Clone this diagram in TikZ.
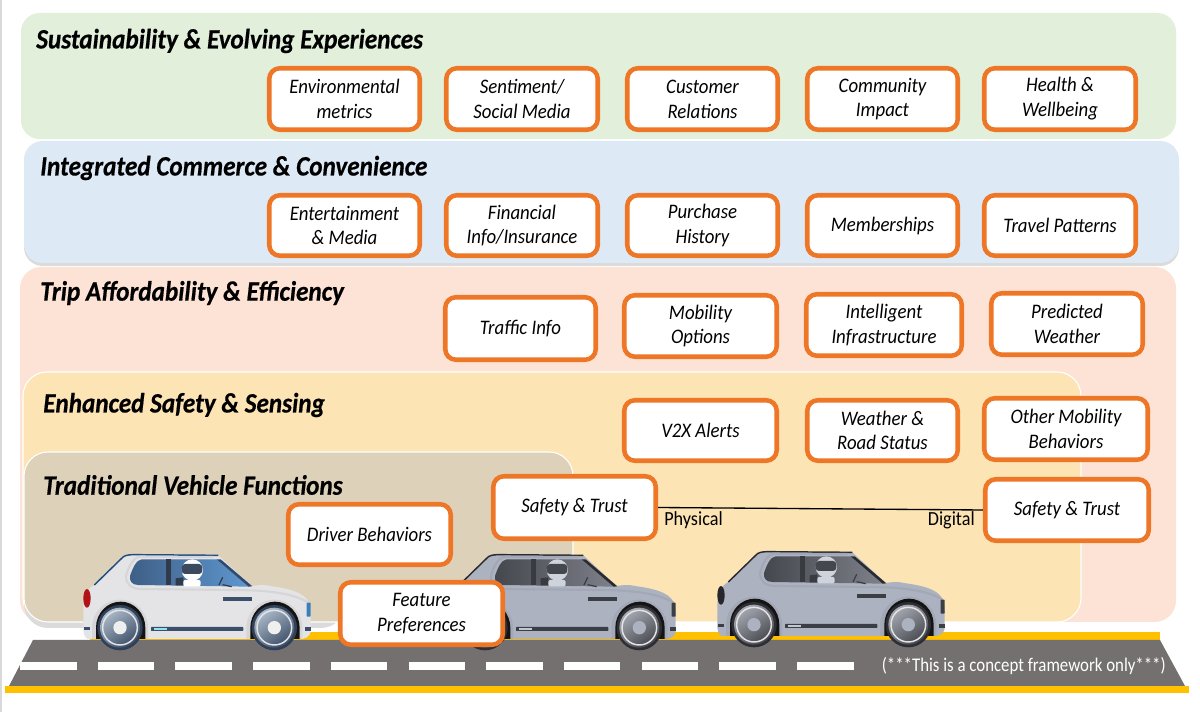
\documentclass[tikz,border=0pt]{standalone}
\usepackage{fontspec}
\setmainfont{Carlito}
\newfontfamily\headfont[FakeStretch=0.9,FakeBold=0.5]{Carlito}
\newfontfamily\boxfont[FakeStretch=0.91]{Carlito}
\newfontfamily\notefont[FakeStretch=0.87]{Carlito}
\definecolor{bandgreen}{HTML}{E2EFDA}
\definecolor{bandblue}{HTML}{DDE9F5}
\definecolor{bandpeach}{HTML}{FDE3D6}
\definecolor{bandyellow}{HTML}{FDE4B5}
\definecolor{bandtan}{HTML}{DED1B9}
\definecolor{boxorange}{HTML}{EE7627}
\definecolor{roadgrey}{HTML}{747070}
\definecolor{roadyellow}{HTML}{FFC000}
\tikzset{
  band/.style={rounded corners=#1},
  band/.default=20,
  itembox/.style={draw=boxorange,line width=3.4pt,fill=white,rounded corners=8pt,
    align=center,inner sep=0pt,font=\boxfont\fontsize{15.5}{18.6}\selectfont\itshape},
  heading/.style={anchor=west,inner sep=0pt,font=\headfont\fontsize{21}{24}\selectfont\bfseries\itshape},
  tag/.style={inner sep=0pt,font=\boxfont\fontsize{15}{18}\selectfont},
  linkline/.style={black,line width=1pt},
}
% One hatchback, shifted by #1,#2 px; the current paint scheme gives its colours.
\newcommand{\hatchback}[2]{%
\begin{scope}[shift={(#1,450+#2)},x=0.25pt,y=-0.25pt]
  \fill[carbody] (262,567) .. controls (252,560) and (250,550) .. (250,530) -- (250,470)
    .. controls (252,440) and (262,415) .. (283,405) -- (365,325)
    .. controls (372,316) and (385,314) .. (400,314) -- (655,316) -- (755,408)
    .. controls (775,405) and (790,403) .. (810,408)
    .. controls (860,415) and (910,425) .. (925,455)
    .. controls (932,470) and (933,490) .. (932,510) -- (932,545)
    .. controls (930,560) and (915,567) .. (900,567) -- cycle;
  % roof edge and windshield rim
  \draw[carroof,line width=1.1pt,line join=round] (283,405) -- (365,325)
    .. controls (372,316) and (385,314) .. (400,314) -- (655,316);
  % soft trim around the window
  \draw[cartrim,line width=1.6pt,line join=round] (378,378) .. controls (385,350) and (400,322) .. (420,320)
    -- (640,321) (378,378) .. controls (378,400) and (390,415) .. (420,417) -- (700,420)
    .. controls (790,420) and (880,428) .. (925,458);
  % window glass
  \shade[left color=carglassa,right color=carglassb] (390,378) .. controls (398,355) and (408,330) .. (425,328)
    -- (650,328) -- (748,410) -- (415,405) .. controls (395,405) and (388,392) .. (390,378) -- cycle;
  \fill[carrimglass] (650,328) -- (662,328) -- (757,409) -- (746,410) -- cycle;
  \fill[carpillar] (497,328) rectangle (512,405);
  % driver
  \fill[carpillar] (527,385) -- (550,382) -- (550,406) -- (527,406) -- cycle;
  \draw[carpillar,line width=0.9pt] (657,405) -- (668,382) (668,404) -- (695,410);
  \fill[carhelmet,rounded corners=1.5pt] (550,390) rectangle (602,409);
  \fill[carhelmet] (577,360) circle (32);
  \fill[carvisor,rounded corners=2.5pt] (545,342) rectangle (607,372);
  % door handle, sill and accents
  \fill[carsill] (670,441) rectangle (757,452);
  \fill[carsill,rounded corners=0.5pt] (453,531) rectangle (730,543);
  \fill[caraccent] (462,533) rectangle (500,541);
  \fill[carsill] (252,530) rectangle (270,541);
  \fill[carsill] (915,530) rectangle (932,542);
  \fill[carlamp,rounded corners=0.5pt] (920,458) rectangle (932,500);
  \fill[cartail] (261,445) ellipse (11 and 28);
  % arches and wheels
  \foreach \cx in {360,823}{
    \fill[cartrim] (\cx-84,567) -- (\cx-84,533) arc (180:360:84) -- (\cx+84,567) -- cycle;
    \fill[black!92] (\cx-72,567) -- (\cx-72,533) arc (180:360:74 and 78) -- (\cx+76,567) -- cycle;
    \fill[carrim] (\cx,533) circle (68);
    \shade[left color=carwheela,right color=carwheelb,shading angle=215] (\cx,533) circle (60);
    \draw[white!85!carwheela,line width=1.1pt] (\cx,533) circle (52);
    \fill[carhub] (\cx,533) circle (20);
  }
\end{scope}}
\newcommand{\paintwhite}{%
  \definecolor{carbody}{HTML}{E4E4E6}\definecolor{cartrim}{HTML}{D6D6D8}
  \definecolor{carroof}{HTML}{1F4E80}\definecolor{carglassa}{HTML}{3E5F86}\definecolor{carglassb}{HTML}{5F97D0}
  \definecolor{carrimglass}{HTML}{2F4A6E}\definecolor{carvisor}{HTML}{3C4A60}
  \definecolor{carpillar}{HTML}{2F3A4A}\definecolor{carhelmet}{HTML}{FFFFFF}\definecolor{carsill}{HTML}{3B4F6C}
  \definecolor{caraccent}{HTML}{8FE3F0}\definecolor{carlamp}{HTML}{3A7FB8}\definecolor{cartail}{HTML}{B01218}
  \definecolor{carrim}{HTML}{2F4058}\definecolor{carwheela}{HTML}{3C4D66}\definecolor{carwheelb}{HTML}{AEBCCB}
  \definecolor{carhub}{HTML}{EFEFEF}}
\newcommand{\paintgrey}{%
  \definecolor{carbody}{HTML}{ACB2C0}\definecolor{cartrim}{HTML}{A2A8B6}
  \definecolor{carroof}{HTML}{2A2B30}\definecolor{carglassa}{HTML}{45474F}\definecolor{carglassb}{HTML}{7F818A}
  \definecolor{carrimglass}{HTML}{2A2B30}\definecolor{carvisor}{HTML}{45474F}
  \definecolor{carpillar}{HTML}{3A3B41}\definecolor{carhelmet}{HTML}{CFD3DB}\definecolor{carsill}{HTML}{3C3E45}
  \definecolor{caraccent}{HTML}{C4C7CE}\definecolor{carlamp}{HTML}{3C3E45}\definecolor{cartail}{HTML}{26272B}
  \definecolor{carrim}{HTML}{2E2F34}\definecolor{carwheela}{HTML}{45464D}\definecolor{carwheelb}{HTML}{A8ABB4}
  \definecolor{carhub}{HTML}{ACB2C0}}
\begin{document}
\begin{tikzpicture}[x=0.75pt,y=-0.75pt]
\useasboundingbox (0,0) rectangle (1200,712);
\fill[white] (0,0) rectangle (1200,712);
\fill[black!15] (0,0) rectangle (1.5,712);

% layered bands, outermost first
\fill[bandgreen,band=14pt] (21,13) rectangle (1176,139);
\fill[black!14,band=14pt] (24,151) rectangle (1179,266);
\fill[bandblue,band=14pt] (24,141) rectangle (1179,263);
\fill[bandpeach,band=16pt] (20,267) rectangle (1176,622);
\draw[white,fill=bandyellow,line width=0.8pt,band=18pt] (23,372) rectangle (1081,622);
\fill[black!14,band=18pt] (24,470) rectangle (345,628);
\draw[white,fill=bandtan,line width=0.8pt,band=18pt] (24,452) rectangle (573,622);

% headings
\node[heading] (hSustain) at (36,41) {Sustainability \& Evolving Experiences};
\node[heading] (hCommerce) at (40,168) {Integrated Commerce \& Convenience};
\node[heading] (hTrip) at (40,293) {Trip Affordability \& Efficiency};
\node[heading] (hSafety) at (43,405) {Enhanced Safety \& Sensing};
\node[heading] (hTraditional) at (43,485) {Traditional Vehicle Functions};

% road
\fill[roadyellow] (90,632) rectangle (1160,640);
\fill[roadgrey] (33,640) -- (1160,640) -- (1185,686) -- (9,686) -- cycle;
\fill[roadyellow] (5,686) rectangle (1189,693);
\foreach \k in {0,...,10}
  \fill[white] ({20+77.7*\k},662) rectangle ({76.5+77.7*\k},670);

% cars
\paintwhite
\hatchback{0}{0}
\paintgrey
\hatchback{365}{0}
\hatchback{634}{-3}

% item boxes: rows from top to bottom
\newcommand{\itembox}[6]{%
  \node[itembox,minimum width={(#3-#2-4.5)*0.75pt},minimum height={(#5-#4-4.5)*0.75pt}]
    (#1) at ({(#2+#3)/2},{(#4+#5)/2}) {#6};}
\itembox{env}{267}{422}{66}{132}{Environmental\\metrics}
\itembox{sentiment}{444}{600}{66}{132}{Sentiment/\\Social Media}
\itembox{customer}{625}{780}{66}{132}{Customer\\Relations}
\itembox{community}{805}{960}{66}{132}{Community\\Impact}
\itembox{health}{982}{1138}{66}{132}{Health \&\\Wellbeing}
\itembox{entertain}{267}{422}{193}{258}{Entertainment\\\& Media}
\itembox{financial}{444}{600}{193}{258}{Financial\\Info/Insurance}
\itembox{purchase}{625}{780}{193}{258}{Purchase\\History}
\itembox{member}{805}{960}{193}{258}{Memberships}
\itembox{travel}{982}{1138}{193}{258}{Travel Patterns}
\itembox{traffic}{443}{598}{295}{362}{Traffic Info}
\itembox{mobility}{622}{779}{293}{359}{Mobility\\Options}
\itembox{infra}{804}{964}{292}{358}{Intelligent\\Infrastructure}
\itembox{weather}{989}{1145}{291}{357}{Predicted\\Weather}
\itembox{vtox}{622}{779}{398}{463}{V2X Alerts}
\itembox{road}{805}{960}{398}{463}{Weather \&\\Road Status}
\itembox{other}{982}{1150}{396}{462}{Other Mobility\\Behaviors}
\itembox{trustA}{491}{658}{474}{541}{Safety \& Trust}
\itembox{trustB}{983}{1151}{477}{543}{Safety \& Trust}
\itembox{driver}{286}{453}{502}{567}{Driver Behaviors}
\itembox{feature}{338}{505}{580}{647}{Feature\\Preferences}

% physical-to-digital link
\draw[linkline] (trustA.east) -- (trustB.west);
\node[tag,anchor=west] (physical) at (664,520) {Physical};
\node[tag,anchor=east] (digital) at (975,520) {Digital};

\node[inner sep=0pt,text=white,anchor=east,font=\notefont\fontsize{14.5}{17}\selectfont] (note) at (1166,666)
  {(***This is a concept framework only***)};
\end{tikzpicture}
\end{document}
